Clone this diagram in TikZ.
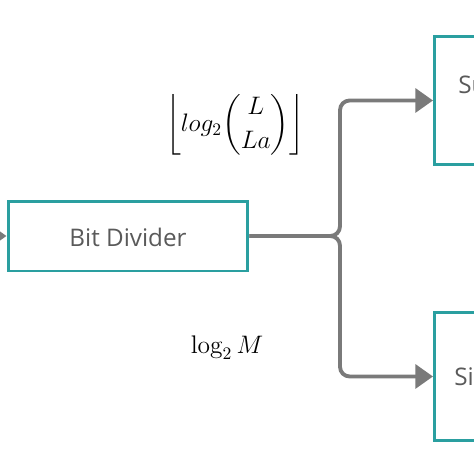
\documentclass[tikz,border=0pt]{standalone}
\usepackage{amsmath}
\usepackage{fontspec}
\setsansfont{Open Sans}
\usetikzlibrary{arrows.meta}

\definecolor{boxteal}{HTML}{2A9FA0}
\definecolor{linegray}{HTML}{7A7A7A}
\definecolor{txtgray}{HTML}{5A5A5A}

\tikzset{
	blk/.style={rectangle,draw=boxteal,line width=1.7pt,fill=white,inner sep=0pt},
	conn/.style={draw=linegray,line width=2.2pt,rounded corners=5.5pt,
		-{Triangle[length=10pt,width=13.5pt]}},
	lbl/.style={font=\sffamily\fontsize{13.8}{16}\selectfont,text=txtgray}
}

\begin{document}
\begin{tikzpicture}[x=0.02cm,y=-0.02cm]

	\useasboundingbox (0,0) rectangle (474,474);
	\clip (0,0) rectangle (474,474);

	\node[blk,minimum width=4.8cm,minimum height=1.4cm] (bd) at (128,236) {};
	\node[lbl] (bdtxt) at (128,237) {Bit Divider};

	\node[blk,anchor=north west,minimum width=2.8cm,minimum height=2.56cm] (su) at (433,35) {};
	\node[lbl,anchor=west,inner sep=0pt] (sutxt) at (458,85) {Su};

	\node[blk,anchor=north west,minimum width=2.8cm,minimum height=2.56cm] (si) at (433,311) {};
	\node[lbl,anchor=west,inner sep=0pt] (sitxt) at (454,377) {Si};

	\coordinate (in) at (-30,236);
	\coordinate (split) at (340,236);

	\node (lab1) at (235,125) {\fontsize{14}{16}\selectfont$\displaystyle\left\lfloor log_2\binom{L}{La}\right\rfloor$};
	\node (lab2) at (227,348) {\fontsize{14.5}{17}\selectfont$\log_2 M$};

	\draw[conn] (in) -- (bd.west);
	\draw[conn] (bd.east) -- (split) |- (su.west);
	\draw[conn] (bd.east) -- (split) |- (si.west);

\end{tikzpicture}
\end{document}
